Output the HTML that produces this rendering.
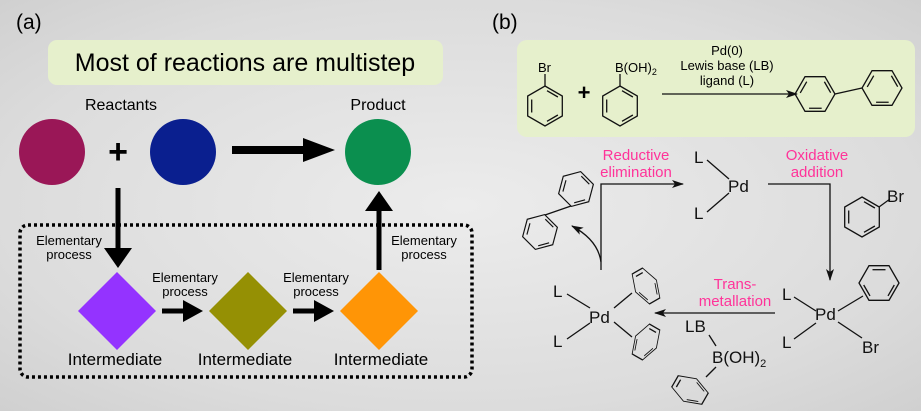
<!DOCTYPE html>
<html><head><meta charset="utf-8"><style>
html,body{margin:0;padding:0}
body{width:921px;height:411px;overflow:hidden;background:radial-gradient(ellipse at 50% 50%,#ececec 0%,#dcdcdc 70%,#d0d0d0 100%);font-family:"Liberation Sans",sans-serif}
svg{display:block}
text{font-family:"Liberation Sans",sans-serif}
</style></head><body>
<svg width="921" height="411" viewBox="0 0 921 411">
<defs>
<g id="bz" fill="none" stroke="#111" stroke-width="1.3">
<polygon points="0,-20 17.3,-10 17.3,10 0,20 -17.3,10 -17.3,-10"/>
<line x1="2" y1="-15.3" x2="12.9" y2="-9"/>
<line x1="12.9" y1="9" x2="2" y2="15.3"/>
<line x1="-13.3" y1="6.5" x2="-13.3" y2="-6.5"/>
</g>
<marker id="ah" markerWidth="12" markerHeight="8" refX="11" refY="4" orient="auto" markerUnits="userSpaceOnUse"><path d="M0,0 L12,4 L0,8 L3,4Z" fill="#111"/></marker>
</defs>

<!-- (a) -->
<text x="16" y="29" font-size="21">(a)</text>
<rect x="48" y="40" width="395" height="45" rx="9" fill="#e6f0cc"/>
<text x="245" y="71" font-size="25" text-anchor="middle">Most of reactions are multistep</text>
<text x="121" y="110" font-size="16" text-anchor="middle">Reactants</text>
<text x="378" y="110" font-size="16" text-anchor="middle">Product</text>
<circle cx="52" cy="152" r="33" fill="#9a1757"/>
<text x="118" y="163" font-size="34" text-anchor="middle" font-weight="bold">+</text>
<circle cx="183" cy="152" r="33" fill="#0a1f8f"/>
<line x1="232" y1="150" x2="305" y2="150" stroke="#000" stroke-width="8"/>
<polygon points="303,138 335,150 303,162" fill="#000"/>
<circle cx="378" cy="152" r="33" fill="#0b8f4f"/>

<rect x="20" y="225" width="452" height="152" rx="8" fill="none" stroke="#000" stroke-width="3.5" stroke-dasharray="3,3"/>
<line x1="118" y1="188" x2="118" y2="250" stroke="#000" stroke-width="5"/>
<polygon points="104,248 132,248 118,268" fill="#000"/>
<line x1="379" y1="270" x2="379" y2="210" stroke="#000" stroke-width="5"/>
<polygon points="365,211 393,211 379,191" fill="#000"/>

<polygon points="117,272 156,311 117,350 78,311" fill="#9433ff"/>
<polygon points="248,272 287,311 248,350 209,311" fill="#959004"/>
<polygon points="379,272 418,311 379,350 340,311" fill="#ff9506"/>
<line x1="162" y1="311" x2="185" y2="311" stroke="#000" stroke-width="5"/>
<polygon points="183,300 203,311 183,322" fill="#000"/>
<line x1="293" y1="311" x2="316" y2="311" stroke="#000" stroke-width="5"/>
<polygon points="314,300 334,311 314,322" fill="#000"/>

<g font-size="13" text-anchor="middle">
<text x="69" y="245">Elementary</text><text x="69" y="259">process</text>
<text x="185" y="282">Elementary</text><text x="185" y="296">process</text>
<text x="316" y="282">Elementary</text><text x="316" y="296">process</text>
<text x="424" y="245">Elementary</text><text x="424" y="259">process</text>
</g>
<g font-size="17" text-anchor="middle">
<text x="115" y="365">Intermediate</text>
<text x="245" y="365">Intermediate</text>
<text x="381" y="365">Intermediate</text>
</g>

<!-- (b) -->
<text x="492" y="29" font-size="21">(b)</text>
<rect x="517" y="40" width="398" height="97" rx="10" fill="#e6f0cc"/>
<use href="#bz" transform="translate(545,106)"/>
<line x1="545" y1="86" x2="545" y2="74" stroke="#111" stroke-width="1.3"/>
<text x="538" y="72" font-size="13">Br</text>
<text x="584" y="100" font-size="22" font-weight="bold" text-anchor="middle">+</text>
<use href="#bz" transform="translate(620,106)"/>
<line x1="620" y1="86" x2="620" y2="74" stroke="#111" stroke-width="1.3"/>
<text x="615" y="72" font-size="13">B(OH)<tspan font-size="9" dy="3">2</tspan></text>
<line x1="662" y1="94" x2="797" y2="94" stroke="#111" stroke-width="1.2" marker-end="url(#ah)"/>
<g font-size="13" text-anchor="middle">
<text x="727" y="55">Pd(0)</text><text x="727" y="70">Lewis base (LB)</text><text x="727" y="85">ligand (L)</text>
</g>
<use href="#bz" transform="translate(815,94) rotate(30)"/>
<line x1="835" y1="94" x2="862" y2="88" stroke="#111" stroke-width="1.3"/>
<use href="#bz" transform="translate(882,88) rotate(30)"/>

<g font-size="15" fill="#ff3399" text-anchor="middle">
<text x="636" y="160">Reductive</text><text x="636" y="177">elimination</text>
<text x="817" y="160">Oxidative</text><text x="817" y="177">addition</text>
<text x="735" y="289">Trans-</text><text x="735" y="306">metallation</text>
</g>

<g font-size="17" fill="#111">
<text x="694" y="163">L</text><text x="728" y="192">Pd</text><text x="694" y="219">L</text>
</g>
<g stroke="#111" stroke-width="1.3">
<line x1="707" y1="160" x2="729" y2="179"/><line x1="707" y1="212" x2="729" y2="193"/>
</g>
<polyline points="601,270 601,184 683,184" fill="none" stroke="#111" stroke-width="1.3" marker-end="url(#ah)"/>
<polyline points="768,184 830,184 830,280" fill="none" stroke="#111" stroke-width="1.3" marker-end="url(#ah)"/>
<path d="M601,262 Q598,240 572,226" fill="none" stroke="#111" stroke-width="1.3" marker-end="url(#ah)"/>

<use href="#bz" transform="translate(862,217)"/>
<line x1="879" y1="207" x2="890" y2="199" stroke="#111" stroke-width="1.3"/>
<text x="887" y="202" font-size="17" fill="#111">Br</text>

<use href="#bz" transform="translate(576,189) rotate(15) scale(0.9)"/>
<line x1="571" y1="206" x2="545" y2="215" stroke="#111" stroke-width="1.3"/>
<use href="#bz" transform="translate(540,232) rotate(15) scale(0.9)"/>

<!-- right Pd -->
<g font-size="17" fill="#111">
<text x="782" y="300">L</text><text x="815" y="320">Pd</text><text x="782" y="348">L</text><text x="862" y="353">Br</text>
</g>
<g stroke="#111" stroke-width="1.3">
<line x1="794" y1="297" x2="816" y2="311"/><line x1="794" y1="339" x2="816" y2="323"/>
<line x1="838" y1="311" x2="863" y2="296"/><line x1="838" y1="322" x2="862" y2="338"/>
</g>
<use href="#bz" transform="translate(879,283) rotate(90)"/>

<line x1="775" y1="313" x2="655" y2="313" stroke="#111" stroke-width="1.3" marker-end="url(#ah)"/>

<!-- left Pd -->
<g font-size="17" fill="#111">
<text x="553" y="297">L</text><text x="589" y="323">Pd</text><text x="553" y="347">L</text>
<text x="685" y="332">LB</text><text x="712" y="363">B(OH)<tspan font-size="11" dy="4">2</tspan></text>
</g>
<g stroke="#111" stroke-width="1.3">
<line x1="567" y1="294" x2="590" y2="308"/><line x1="567" y1="339" x2="590" y2="323"/>
<line x1="614" y1="308" x2="632" y2="293"/><line x1="614" y1="322" x2="632" y2="337"/>
<line x1="709" y1="335" x2="716" y2="346"/><line x1="716" y1="367" x2="706" y2="377"/>
</g>
<use href="#bz" transform="translate(646,286) rotate(60) scale(1,0.6)"/>
<use href="#bz" transform="translate(646,342) rotate(120) scale(1,0.6)"/>
<use href="#bz" transform="translate(690,390) rotate(30) scale(1,0.65)"/>
</svg>
</body></html>
